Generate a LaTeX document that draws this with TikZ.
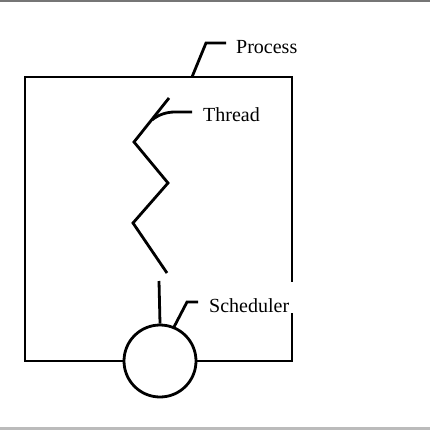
\documentclass[tikz,border=0pt]{standalone}
\usepackage{fontspec}
\setmainfont{Liberation Serif}
\definecolor{topline}{HTML}{767676}
\definecolor{botline}{HTML}{BBBBBB}
\begin{document}
\begin{tikzpicture}[x=1pt,y=-1pt,
  wire/.style={line width=2.8pt,line join=miter},
  lbl/.style={anchor=base west,inner sep=0pt,font=\fontsize{20}{24}\selectfont}]
\useasboundingbox (0,0) rectangle (430,430);
\fill[topline] (0,0) rectangle (430,2.4);
\fill[botline] (0,427.3) rectangle (430,430);
% scheduler circle
\node[circle,draw,line width=2.8pt,minimum size=72pt,inner sep=0pt] (sched) at (160,361) {};
% process box
\draw[wire] (sched.west) -- (25,361) -- (25,77) -- (292,77) -- (292,282);
\draw[wire] (292,313) -- (292,361) -- (sched.east);
% thread zigzag
\coordinate (t0) at (169,98);
\coordinate (t1) at (134,142);
\coordinate (t2) at (168,183);
\coordinate (t3) at (133,223);
\coordinate (t4) at (167,273);
\draw[wire] (t0) -- (t1) -- (t2) -- (t3) -- (t4);
\draw[wire] (159,281) -- (sched.north);
% labels
\node[lbl] (process) at (236,54) {Process};
\node[lbl] (thread) at (203,122) {Thread};
\node[lbl] (scheduler) at (209,312) {Scheduler};
% leaders
\draw[wire] (192,77) -- (206,43) -- (226,43);
\draw[wire] (192,112) -- (175,112) .. controls (166,112) and (158,115) .. (152,120);
\draw[wire] (174,327) -- (187,302) -- (198,302);
\end{tikzpicture}
\end{document}
